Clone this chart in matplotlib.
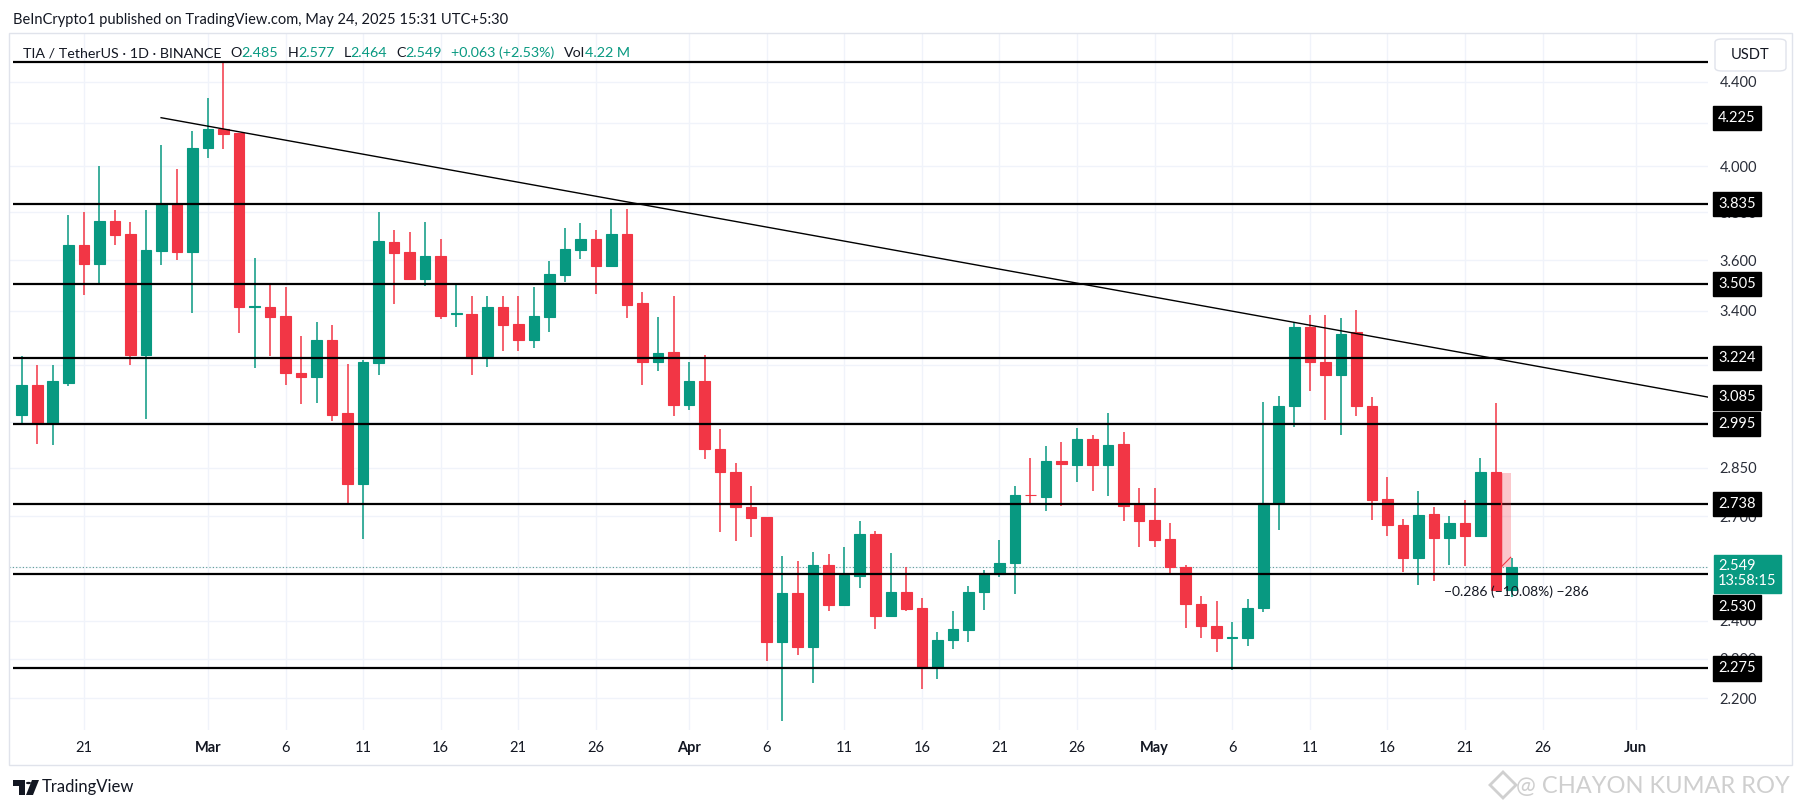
import matplotlib
matplotlib.use("Agg")
import matplotlib.pyplot as plt
from matplotlib.patches import Rectangle, FancyBboxPatch, Circle, Polygon
from matplotlib.ticker import NullFormatter

plt.rcParams['font.family'] = ['Lato', 'DejaVu Sans']

# day index: 0 = Mar 1 2025, candles Feb 17 .. May 24
days = list(range(-12, 85))
opens = [3.025, 3.129, 2.997, 3.137, 3.662, 3.585, 3.760, 3.708, 3.237, 3.639,
         3.835, 3.635, 4.082, 4.171, 4.155, 3.414, 3.414, 3.382, 3.170, 3.156,
         3.292, 3.033, 2.799, 3.207, 3.675, 3.634, 3.524, 3.617, 3.388, 3.390,
         3.231, 3.415, 3.351, 3.292, 3.379, 3.541, 3.642, 3.686, 3.577, 3.708,
         3.430, 3.212, 3.246, 3.060, 3.144, 2.911, 2.836, 2.727, 2.697, 2.345,
         2.476, 2.331, 2.557, 2.444, 2.523, 2.647, 2.414, 2.479, 2.435, 2.279,
         2.348, 2.376, 2.479, 2.531, 2.561, 2.766, 2.760, 2.871, 2.860, 2.944,
         2.858, 2.928, 2.738, 2.689, 2.631, 2.550, 2.447, 2.385, 2.354, 2.354,
         2.435, 2.740, 3.054, 3.339, 3.212, 3.165, 3.319, 3.054, 2.752, 2.674,
         2.575, 2.706, 2.634, 2.679, 2.641, 2.836, 2.485]
highs = [3.233, 3.201, 3.201, 3.788, 3.798, 4.002, 3.809, 3.756, 3.809, 4.098,
         3.988, 4.160, 4.322, 4.500, 4.155, 3.608, 3.501, 3.492, 3.306, 3.360,
         3.347, 3.205, 3.216, 3.798, 3.722, 3.716, 3.759, 3.687, 3.501, 3.456,
         3.458, 3.458, 3.458, 3.492, 3.598, 3.731, 3.755, 3.725, 3.812, 3.812,
         3.475, 3.379, 3.456, 3.210, 3.236, 2.977, 2.866, 2.792, 2.697, 2.582,
         2.568, 2.592, 2.588, 2.607, 2.686, 2.654, 2.590, 2.550, 2.462, 2.370,
         2.426, 2.497, 2.542, 2.629, 2.792, 2.882, 2.920, 2.933, 2.981, 2.958,
         3.031, 2.969, 2.786, 2.786, 2.679, 2.557, 2.467, 2.453, 2.396, 2.459,
         3.071, 3.091, 3.360, 3.386, 3.386, 3.372, 3.402, 3.087, 2.821, 2.691,
         2.776, 2.729, 2.699, 2.750, 2.882, 3.065, 2.577]
lows = [2.997, 2.929, 2.925, 3.125, 3.462, 3.508, 3.662, 3.201, 3.010, 3.581,
        3.601, 3.392, 4.037, 4.078, 3.316, 3.189, 3.233, 3.129, 3.062, 3.067,
        3.006, 2.738, 2.630, 3.164, 3.427, 3.521, 3.497, 3.369, 3.341, 3.164,
        3.192, 3.249, 3.252, 3.261, 3.319, 3.514, 3.604, 3.466, 3.577, 3.372,
        3.129, 3.180, 3.020, 3.043, 2.879, 2.651, 2.624, 2.637, 2.293, 2.144,
        2.311, 2.238, 2.426, 2.440, 2.490, 2.378, 2.414, 2.426, 2.223, 2.249,
        2.326, 2.344, 2.430, 2.521, 2.474, 2.740, 2.717, 2.731, 2.804, 2.776,
        2.762, 2.684, 2.609, 2.609, 2.531, 2.381, 2.354, 2.317, 2.272, 2.334,
        2.423, 2.657, 2.986, 3.106, 3.007, 2.958, 3.022, 2.689, 2.641, 2.535,
        2.500, 2.509, 2.557, 2.553, 2.641, 2.485, 2.464]
closes = [3.129, 2.997, 3.141, 3.662, 3.585, 3.760, 3.704, 3.237, 3.642, 3.835,
          3.635, 4.082, 4.174, 4.149, 3.417, 3.418, 3.377, 3.170, 3.156, 3.292,
          3.025, 2.799, 3.209, 3.679, 3.628, 3.524, 3.617, 3.382, 3.392, 3.225,
          3.414, 3.348, 3.292, 3.382, 3.545, 3.646, 3.686, 3.577, 3.708, 3.423,
          3.212, 3.242, 3.060, 3.141, 2.911, 2.836, 2.727, 2.694, 2.345, 2.476,
          2.331, 2.557, 2.444, 2.526, 2.647, 2.414, 2.479, 2.432, 2.279, 2.350,
          2.378, 2.479, 2.531, 2.561, 2.765, 2.764, 2.871, 2.862, 2.944, 2.858,
          2.925, 2.731, 2.684, 2.629, 2.551, 2.447, 2.385, 2.354, 2.356, 2.435,
          2.740, 3.056, 3.339, 3.209, 3.165, 3.314, 3.054, 2.750, 2.674, 2.575,
          2.704, 2.634, 2.679, 2.641, 2.836, 2.485, 2.549]

levels = [4.50, 3.835, 3.505, 3.224, 2.995, 2.738, 2.530, 2.275]
level_labels = [4.225, 3.835, 3.505, 3.224, 3.085, 2.995, 2.738, 2.530, 2.275]
trend_x = [-3.02, 96.8]
trend_y = [4.225, 3.085]
last_price = 2.549
range_top, range_bottom = 2.835, 2.549

price_ticks = [4.4, 4.0, 3.8, 3.6, 3.4, 3.2, 2.85, 2.7, 2.4, 2.3, 2.2]
hidden_ticks = [4.2, 3.0, 2.55]   # fully covered by the label boxes, grid only
date_ticks = [-8, 0, 5, 10, 15, 20, 25, 31, 36, 41, 46, 51, 56, 61, 66, 71, 76, 81, 86, 92]
date_labels = ['21', 'Mar', '6', '11', '16', '21', '26', 'Apr', '6', '11', '16', '21',
               '26', 'May', '6', '11', '16', '21', '26', 'Jun']

UP = '#089981'
DOWN = '#F23645'
TXT = '#131722'
W, H = 1804, 809


def fx(px):
    return px / W


def fy(py):
    return 1 - py / H


fig = plt.figure(figsize=(W / 100, H / 100), dpi=100)
fig.patch.set_facecolor('white')

# panel border
fig.patches.append(Rectangle((fx(9), fy(765)), fx(1792 - 9), (765 - 33) / H, transform=fig.transFigure,
                             fill=False, ec='#e0e3eb', lw=1))

ax = fig.add_axes([fx(9), fy(730), (1708 - 9) / W, (730 - 33) / H])
ax.set_yscale('log')
ax.set_xlim(-12.82, 96.66)
ax.set_ylim(2.123, 4.647)
for s in ax.spines.values():
    s.set_visible(False)

ax.yaxis.tick_right()
ax.set_yticks(price_ticks, labels=[f'{t:.3f}' for t in price_ticks])
ax.set_yticks(hidden_ticks, minor=True)
ax.yaxis.set_minor_formatter(NullFormatter())
ax.tick_params(axis='y', which='both', length=0, pad=8.5, labelsize=10.5, labelcolor='#2a2e39')
ax.set_xticks(date_ticks, labels=date_labels)
ax.tick_params(axis='x', length=0, pad=8, labelsize=10.5, labelcolor=TXT)
for t in ax.get_xticklabels():
    if t.get_text() in ('Mar', 'Apr', 'May', 'Jun'):
        t.set_fontweight('bold')
ax.grid(True, which='both', color='#f0f3fa', lw=1)
ax.set_axisbelow(True)

# candles
for d, o, h, l, c in zip(days, opens, highs, lows, closes):
    col = UP if c >= o else DOWN
    ax.vlines(d, l, h, color=col, lw=1.1, zorder=3)
    ax.bar(d, abs(c - o), bottom=min(o, c), width=0.68, color=col, ec=col, lw=0.8, zorder=4)

# levels and trend line
ax.hlines(levels, -12.55, 96.66, color='black', lw=1.6, zorder=5)
ax.plot(trend_x, trend_y, color='black', lw=1.0, zorder=5)
ax.axhline(last_price, color='#5a9e94', ls=(0, (1, 2)), lw=0.8, zorder=2)

# range measurement
ax.add_patch(Rectangle((83.3, range_bottom), 0.68, range_top - range_bottom,
                       fc=DOWN, alpha=0.28, ec='none', zorder=6))
ax.vlines(83.3, range_bottom, range_top, color=DOWN, lw=1, zorder=6)
ax.plot([83.4, 83.95], [2.553, 2.578], color=DOWN, lw=0.8, zorder=6)
ax.annotate('\u22120.286 (\u221210.08%) \u2212286', xy=(83.65, range_bottom), xytext=(-62, -24),
            textcoords='offset pixels', ha='left', va='center', fontsize=10, color=TXT, zorder=7)

# price axis label boxes
for v in level_labels:
    dy = -33 if v == 2.530 else 0
    ax.annotate(f'{v:.3f}', xy=(1, v), xycoords=('axes fraction', 'data'), xytext=(10, dy),
                textcoords='offset pixels', ha='left', va='center', fontsize=10.5, color='white',
                bbox=dict(boxstyle='square,pad=0.35', fc='black', ec='black'), annotation_clip=False)
ax.annotate(f'{last_price:.3f}\n13:58:15', xy=(1, last_price), xycoords=('axes fraction', 'data'),
            xytext=(10, 8), textcoords='offset pixels', ha='left', va='top', fontsize=10.5,
            color='white', linespacing=1.1, annotation_clip=False,
            bbox=dict(boxstyle='square,pad=0.3', fc=UP, ec=UP))

# USDT box
fig.patches.append(FancyBboxPatch((fx(1715), fy(71)), fx(71), 32 / H, boxstyle='round,pad=0,rounding_size=0.004',
                                  transform=fig.transFigure, fc='white', ec='#e0e3eb', lw=1))
fig.text(fx(1750), fy(55), 'USDT', ha='center', va='center', fontsize=10.5, color=TXT)

# header texts
fig.text(fx(13), fy(20), 'BeInCrypto1 published on TradingView.com, May 24, 2025 15:31 UTC+5:30',
         ha='left', va='center', fontsize=10.5, color=TXT)

# legend line, pieces placed one after another
legend_parts = [('TIA / TetherUS \u00b7 1D \u00b7 BINANCE', TXT, 9), ('O', TXT, 0), ('2.485', UP, 9),
                ('H', TXT, 0), ('2.577', UP, 9), ('L', TXT, 0), ('2.464', UP, 9),
                ('C', TXT, 0), ('2.549', UP, 9), ('+0.063 (+2.53%)', UP, 9),
                ('Vol', TXT, 0), ('4.22 M', UP, 0)]
renderer = fig.canvas.get_renderer()
xpos = 23
for s, col, gap in legend_parts:
    t = fig.text(fx(xpos), fy(53), s, ha='left', va='center', fontsize=10.3, color=col)
    bb = t.get_window_extent(renderer)
    xpos += bb.width + gap

# TradingView logo
fig.patches.append(Polygon([(fx(13), fy(780)), (fx(25), fy(780)), (fx(25), fy(795)), (fx(19), fy(795)),
                            (fx(19), fy(786)), (fx(13), fy(786))], closed=True,
                           transform=fig.transFigure, fc=TXT, ec='none'))
fig.patches.append(Polygon([(fx(32), fy(780)), (fx(39), fy(780)), (fx(33), fy(795)), (fx(26), fy(795))],
                           closed=True, transform=fig.transFigure, fc=TXT, ec='none'))
fig.patches.append(Circle((fx(28.5), fy(783)), 2.6 / W, transform=fig.transFigure, fc=TXT, ec='none'))
fig.text(fx(42), fy(787), 'TradingView', ha='left', va='center', fontsize=12, color=TXT)

# watermark
fig.patches.append(Polygon([(fx(1503), fy(772)), (fx(1516), fy(785)), (fx(1503), fy(798)), (fx(1490), fy(785))],
                           closed=True, transform=fig.transFigure, fill=False, ec='#d0d0d0', lw=2))
fig.text(fx(1790), fy(786), '@ CHAYON KUMAR ROY', ha='right', va='center', fontsize=17, color='#cfcfcf')

fig.savefig('out.png', dpi=100, facecolor='white')
